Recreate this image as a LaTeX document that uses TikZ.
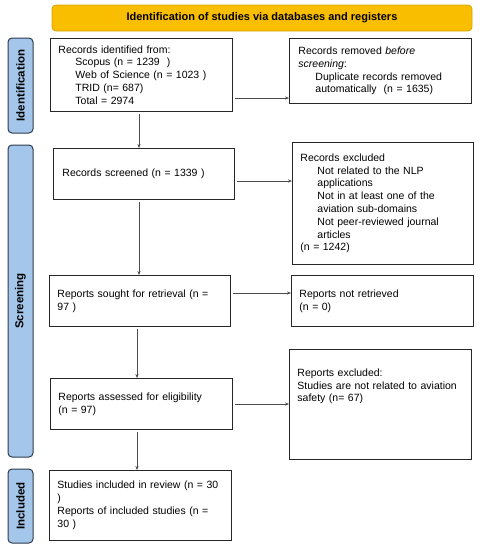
\documentclass[tikz,border=0pt]{standalone}
\usepackage{fontspec}
\setmainfont{Liberation Sans}
\usepackage{tikz}
\usetikzlibrary{arrows.meta}

\definecolor{headfill}{HTML}{F9BE00}
\definecolor{headline}{HTML}{D6A300}
\definecolor{sidefill}{HTML}{A4C6EA}
\definecolor{sideline}{HTML}{2E3B4E}

\tikzset{
  recbox/.style={draw=black!85, line width=0.9pt, anchor=north west, align=left, inner xsep=8pt},
  phase/.style={draw=sideline, fill=sidefill, line width=1pt, rounded corners=4pt, rotate=90, minimum height=25pt, inner sep=0pt, font=\fontsize{11.5}{13}\selectfont\bfseries},
  flow/.style={draw=black!70, line width=0.6pt, -{Stealth[length=4pt,width=3.2pt]}, shorten <=2pt}
}

\begin{document}
\begin{tikzpicture}[x=1pt, y=-1pt, font=\fontsize{10.5}{12.8}\selectfont]
\useasboundingbox (0,0) rectangle (484,550);

% header
\node [draw=headline, fill=headfill, line width=0.8pt, rounded corners=4pt, minimum width=420pt, minimum height=26pt, font=\fontsize{11}{13}\selectfont\bfseries] (top) at (262,18) {Identification of studies via databases and registers};

% phases
\node [phase, minimum width=95pt] (p1) at (20.5,85.5) {Identification};
\node [phase, minimum width=312pt] (p2) at (20.5,301) {Screening};
\node [phase, minimum width=74pt] (p3) at (20.5,506) {Included};

% boxes, left column
\node [recbox, text width=166pt, minimum height=73pt] (a) at (50,38) {Records identified from:\\
  \hspace*{17pt}Scopus (n = 1239\ \ )\\
  \hspace*{17pt}Web of Science (n = 1023 )\\
  \hspace*{17pt}TRID (n= 687)\\
  \hspace*{17pt}Total = 2974};
\node [recbox, text width=163pt, inner xsep=9pt, minimum height=51pt] (c) at (53,148) {Records screened (n = 1339 )};
\node [recbox, text width=165pt, minimum height=51pt] (e) at (49,275) {Reports sought for retrieval (n =\\97 )};
\node [recbox, text width=166pt, minimum height=51pt] (g) at (50,378) {Reports assessed for eligibility\\(n = 97)};
\node [recbox, text width=166pt, minimum height=70pt] (i) at (49,470) {Studies included in review (n = 30\\)\\Reports of included studies (n =\\30 )};

% boxes, right column
\node [recbox, text width=164pt, inner xsep=9pt, minimum height=65pt] (b) at (289,38) {Records removed \textit{before}\\
  \textit{screening}:\\
  \hspace*{17pt}Duplicate records removed\\
  \hspace*{17pt}automatically\ \ (n = 1635)};
\node [recbox, text width=165pt, minimum height=122pt] (d) at (292,142) {Records excluded\\
  \hspace*{17pt}Not related to the NLP\\
  \hspace*{17pt}applications\\
  \hspace*{17pt}Not in at least one of the\\
  \hspace*{17pt}aviation sub-domains\\
  \hspace*{17pt}Not peer-reviewed journal\\
  \hspace*{17pt}articles\\
  (n = 1242)};
\node [recbox, text width=166pt, minimum height=51pt] (f) at (291,275) {Reports not retrieved\\(n = 0)};
\node [recbox, text width=166pt, minimum height=110pt] (h) at (289,349) {Reports excluded:\\Studies are not related to aviation\\safety (n= 67)\\\mbox{}\\\mbox{}\\\mbox{}};

% connectors
\draw [flow] (a.east |- 0,98) -- (b.west |- 0,98);
\draw [flow] (139,0 |- a.south) -- (139,0 |- c.north);
\draw [flow] (c.east |- 0,181) -- (d.west |- 0,181);
\draw [flow] (139,0 |- c.south) -- (139,0 |- e.north);
\draw [flow] (e.east |- 0,293) -- (f.west |- 0,293);
\draw [flow] (137,0 |- e.south) -- (137,0 |- g.north);
\draw [flow] (g.east |- 0,404) -- (h.west |- 0,404);
\draw [flow] (137,0 |- g.south) -- (137,0 |- i.north);
\end{tikzpicture}
\end{document}
